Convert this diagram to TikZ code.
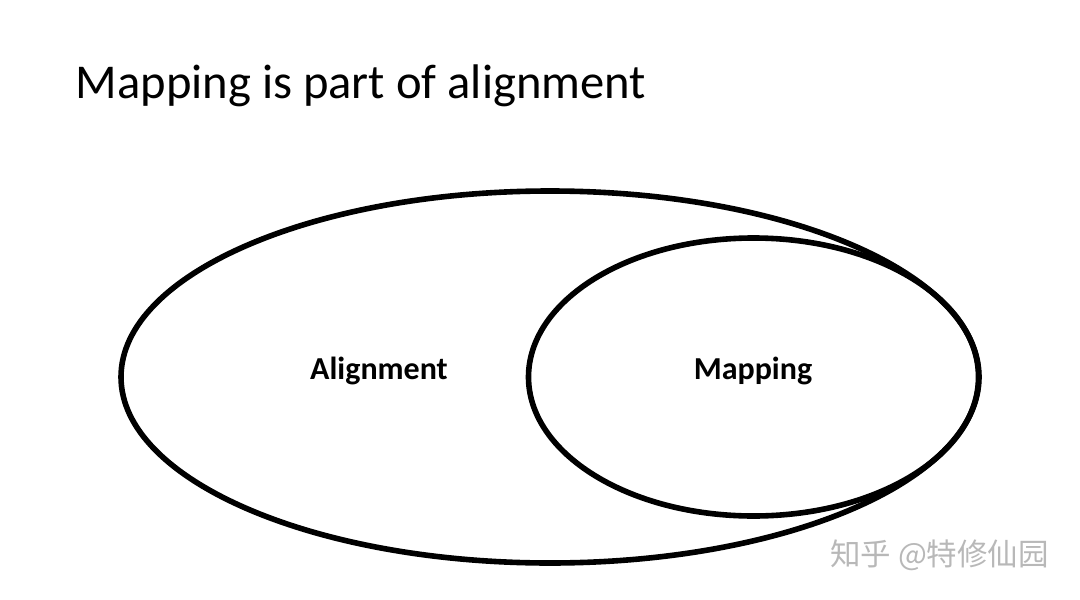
\documentclass[tikz,border=0pt]{standalone}
\usepackage{fontspec}
\setmainfont{Carlito}
\newfontfamily\cjk{Noto Sans CJK SC}
\tikzset{ring/.style={draw=black,line width=5.6pt},lab/.style={font=\bfseries\fontsize{32}{38}\selectfont,text=black,inner sep=0pt,anchor=base}}
\begin{document}
\begin{tikzpicture}[x=1pt,y=-1pt]
\useasboundingbox (0,0) rectangle (1080,600);
\node[anchor=base west,inner sep=0pt,font=\fontsize{48.6}{56}\selectfont] (title) at (75.5,98) {Mapping is part of alignment};
\draw[ring] (550,377) ellipse [x radius=429,y radius=186];
\draw[ring] (753.5,377) ellipse [x radius=225,y radius=139];
\node[lab] (a) at (379,379) {Alignment};
\node[lab] (m) at (753,379) {Mapping};
\node[anchor=west,inner sep=0pt,font=\cjk\fontsize{30.5}{34}\selectfont,text=black!28] (w) at (830,555) {知乎 @特修仙园};
\end{tikzpicture}
\end{document}
